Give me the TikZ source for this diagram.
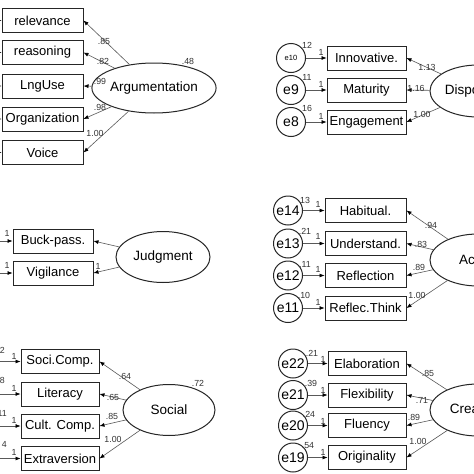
\documentclass[tikz,border=0pt]{standalone}
\usepackage{fontspec}
\setmainfont{Liberation Sans}
\usetikzlibrary{arrows.meta,shapes.geometric}
\tikzset{
  ind/.style={draw=black!85, line width=1pt, inner sep=0pt, minimum height=24pt, font=\fontsize{13}{15}\selectfont},
  lat/.style={draw=black!85, line width=1pt, ellipse, inner sep=0pt, minimum width=94pt, minimum height=51pt, font=\fontsize{13.5}{16}\selectfont},
  err/.style={draw=black!85, line width=1pt, circle, inner sep=0pt, minimum size=29pt, font=\fontsize{14}{16}\selectfont},
  conn/.style={draw=black!65, line width=0.6pt, -{Latex[length=5pt,width=4pt,color=black]}},
  sm/.style={font=\fontsize{8.8}{10}\selectfont, text=black!80, inner sep=0pt},
}
\begin{document}
\begin{tikzpicture}[x=1pt,y=-1pt]
\useasboundingbox (0,0) rectangle (474,474);
\clip (0,0) rectangle (474,474);
\fill[white] (0,0) rectangle (474,474);

% ---------- Argumentation ----------
\node[ind, minimum width=81pt] (rel) at (42.5,20.5) {relevance};
\node[ind, minimum width=81pt] (rea) at (42.5,52.5) {reasoning};
\node[ind, minimum width=81pt] (lng) at (42.5,86) {LngUse};
\node[ind, minimum width=81pt] (org) at (42.5,119) {Organization};
\node[ind, minimum width=81pt] (voi) at (42.5,152.5) {Voice};
\node[lat, minimum width=92pt, minimum height=50pt] (arg) at (154,88) {Argumentation};
\coordinate (a1) at (-15,20.5);
\coordinate (a2) at (-15,52.5);
\coordinate (a3) at (-15,86);
\coordinate (a4) at (-15,119);
\coordinate (a5) at (-15,152.5);
\draw[conn] (a1) -- (rel.west);
\draw[conn] (a2) -- (rea.west);
\draw[conn] (a3) -- (lng.west);
\draw[conn] (a4) -- (org.west);
\draw[conn] (a5) -- (voi.west);
\draw[conn] (arg) -- (rel.east);
\draw[conn] (arg) -- (rea.east);
\draw[conn] (arg) -- (lng.east);
\draw[conn] (arg) -- (org.east);
\draw[conn] (arg) -- (voi.east);
\node[sm] (argv) at (188,61) {.48};
\node[sm] (al1) at (104,41) {.85};
\node[sm] (al2) at (103,61) {.82};
\node[sm] (al3) at (100,81) {.99};
\node[sm] (al4) at (100,107) {.98};
\node[sm] (al5) at (95,133) {1.00};

% ---------- Disposition ----------
\node[ind, minimum width=79pt] (inn) at (366.5,58) {Innovative.};
\node[ind, minimum width=79pt] (mat) at (366.5,90) {Maturity};
\node[ind, minimum width=79pt] (eng) at (366.5,122) {Engagement};
\node[err, font=\fontsize{7.5}{9}\selectfont] (e10) at (291,58) {e10};
\node[err] (e9) at (291,90) {e9};
\node[err] (e8) at (291,122) {e8};
\node[lat, minimum width=96pt, minimum height=52pt] (dis) at (478,91) {Disposition};
\draw[conn] (e10) -- (inn.west);
\draw[conn] (e9) -- (mat.west);
\draw[conn] (e8) -- (eng.west);
\draw[conn] (dis) -- (inn.east);
\draw[conn] (dis) -- (mat.east);
\draw[conn] (dis) -- (eng.east);
\node[sm] (dv1) at (307,45) {12};
\node[sm] (dv2) at (307,77) {11};
\node[sm] (dv3) at (307,108) {16};
\node[sm] (do1) at (321,52) {1};
\node[sm] (do2) at (321,84) {1};
\node[sm] (do3) at (321,116) {1};
\node[sm] (dl1) at (427,67) {1.13};
\node[sm] (dl2) at (416,88) {1.16};
\node[sm] (dl3) at (422,114) {1.00};

% ---------- Judgment ----------
\node[ind, minimum width=80pt] (buc) at (53,241) {Buck-pass.};
\node[ind, minimum width=80pt] (vig) at (53,273) {Vigilance};
\node[lat, minimum width=94pt, minimum height=51pt] (jud) at (163,257) {Judgment};
\coordinate (j1) at (-15,241);
\coordinate (j2) at (-15,273);
\draw[conn] (j1) -- (buc.west);
\draw[conn] (j2) -- (vig.west);
\draw[conn] (jud) -- (buc.east);
\draw[conn] (jud) -- (vig.east);
\node[sm] (jo1) at (7,233) {1};
\node[sm] (jo2) at (7,265) {1};
\node[sm] (jl2) at (98,266) {1};

% ---------- Action ----------
\node[ind, minimum width=81pt] (hab) at (365.5,210.5) {Habitual.};
\node[ind, minimum width=81pt] (und) at (365.5,243.5) {Understand.};
\node[ind, minimum width=81pt] (ref) at (365.5,275.5) {Reflection};
\node[ind, minimum width=81pt] (rft) at (365.5,308) {Reflec.Think};
\node[err] (e14) at (288,210.5) {e14};
\node[err] (e13) at (288,243.5) {e13};
\node[err] (e12) at (288,275.5) {e12};
\node[err] (e11) at (288,308) {e11};
\node[lat, minimum width=96pt, minimum height=52pt] (act) at (478,260) {Action};
\draw[conn] (e14) -- (hab.west);
\draw[conn] (e13) -- (und.west);
\draw[conn] (e12) -- (ref.west);
\draw[conn] (e11) -- (rft.west);
\draw[conn] (act) -- (hab.east);
\draw[conn] (act) -- (und.east);
\draw[conn] (act) -- (ref.east);
\draw[conn] (act) -- (rft.east);
\node[sm] (av1) at (305,200) {13};
\node[sm] (av2) at (305,231) {.21};
\node[sm] (av3) at (305,264) {.11};
\node[sm] (av4) at (304,295) {.10};
\node[sm] (ao1) at (318,204) {1};
\node[sm] (ao2) at (318,236) {1};
\node[sm] (ao3) at (318,269) {1};
\node[sm] (ao4) at (318,302) {1};
\node[sm] (acl1) at (431,225) {.94};
\node[sm] (acl2) at (421,244) {.83};
\node[sm] (acl3) at (419,267) {.89};
\node[sm] (acl4) at (417,295) {1.00};

% ---------- Social ----------
\node[ind, minimum width=78pt] (soc) at (60,361.5) {Soci.Comp.};
\node[ind, minimum width=78pt] (lit) at (60,394) {Literacy};
\node[ind, minimum width=78pt] (cul) at (60,426) {Cult. Comp.};
\node[ind, minimum width=78pt] (ext) at (60,458.5) {Extraversion};
\node[lat, minimum width=92pt, minimum height=51pt] (sol) at (169,410) {Social};
\coordinate (s1) at (-15,361.5);
\coordinate (s2) at (-15,394);
\coordinate (s3) at (-15,426);
\coordinate (s4) at (-15,458.5);
\draw[conn] (s1) -- (soc.west);
\draw[conn] (s2) -- (lit.west);
\draw[conn] (s3) -- (cul.west);
\draw[conn] (s4) -- (ext.west);
\draw[conn] (sol) -- (soc.east);
\draw[conn] (sol) -- (lit.east);
\draw[conn] (sol) -- (cul.east);
\draw[conn] (sol) -- (ext.east);
\node[sm, anchor=east] (sv1) at (5,350) {2};
\node[sm, anchor=east] (sv2) at (5,380) {8};
\node[sm, anchor=east] (sv3) at (7,413) {11};
\node[sm, anchor=east] (sv4) at (7,444) {4};
\node[sm] (so1) at (14,356) {1};
\node[sm] (so2) at (14,388) {1};
\node[sm] (so3) at (14,420) {1};
\node[sm] (so4) at (14,452) {1};
\node[sm] (solv) at (198,383) {.72};
\node[sm] (sl1) at (125,376) {.64};
\node[sm] (sl2) at (113,397) {.65};
\node[sm] (sl3) at (112,416) {.85};
\node[sm] (sl4) at (113,439) {1.00};

% ---------- Creativity ----------
\node[ind, minimum width=78pt] (ela) at (367,363.5) {Elaboration};
\node[ind, minimum width=78pt] (fle) at (367,395) {Flexibility};
\node[ind, minimum width=78pt] (flu) at (367,425.5) {Fluency};
\node[ind, minimum width=78pt] (ori) at (367,457.5) {Originality};
\node[err] (e22) at (293,363.5) {e22};
\node[err] (e21) at (293,395) {e21};
\node[err] (e20) at (293,425.5) {e20};
\node[err] (e19) at (293,457.5) {e19};
\node[lat, minimum width=96pt, minimum height=52pt] (cre) at (478,410) {Creativity};
\draw[conn] (e22) -- (ela.west);
\draw[conn] (e21) -- (fle.west);
\draw[conn] (e20) -- (flu.west);
\draw[conn] (e19) -- (ori.west);
\draw[conn] (cre) -- (ela.east);
\draw[conn] (cre) -- (fle.east);
\draw[conn] (cre) -- (flu.east);
\draw[conn] (cre) -- (ori.east);
\node[sm] (cv1) at (312,353) {.21};
\node[sm] (cv2) at (311,383) {.39};
\node[sm] (cv3) at (309,414) {.24};
\node[sm] (cv4) at (308,446) {.54};
\node[sm] (co1) at (323,359) {1};
\node[sm] (co2) at (323,390) {1};
\node[sm] (co3) at (323,421) {1};
\node[sm] (co4) at (323,452) {1};
\node[sm] (cl1) at (428,373) {.85};
\node[sm] (cl2) at (422,400) {.71};
\node[sm] (cl3) at (414,417) {.89};
\node[sm] (cl4) at (418,441) {1.00};
\end{tikzpicture}
\end{document}
